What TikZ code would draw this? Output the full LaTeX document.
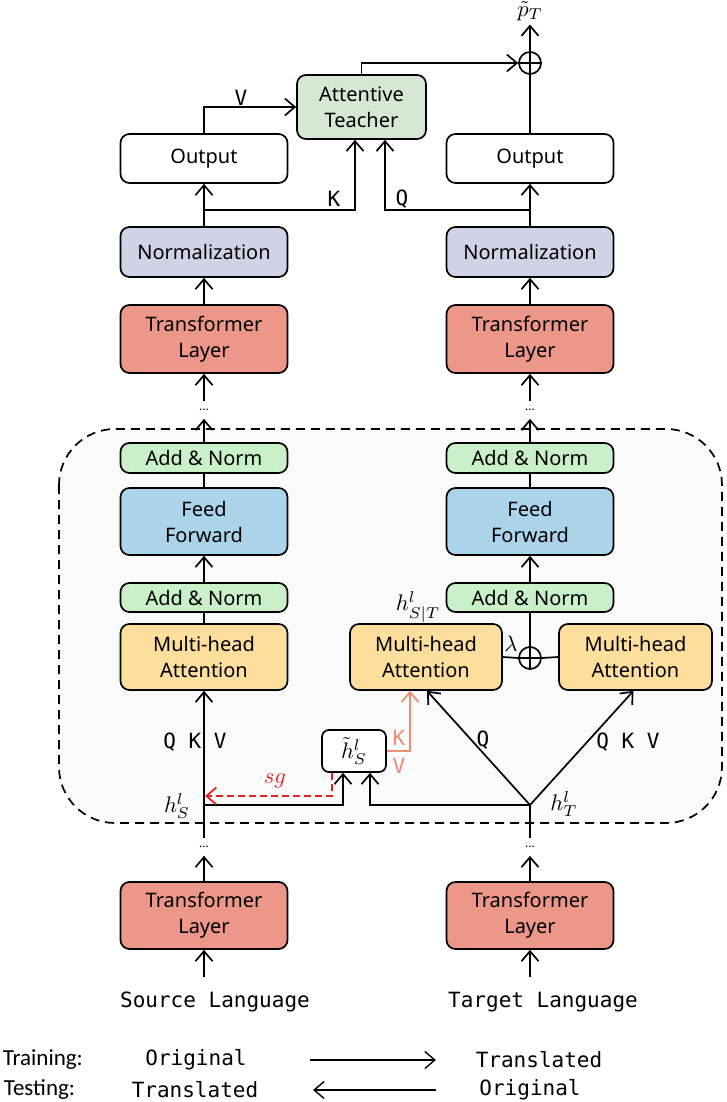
\documentclass[tikz,border=0pt]{standalone}
\usepackage{fontspec}
\setmainfont{Noto Sans}
\setmonofont{DejaVu Sans Mono}
\newfontfamily\legendfont{Carlito}
\usetikzlibrary{arrows.meta, positioning}

\definecolor{tlred}{RGB}{236,151,137}
\definecolor{normblue}{RGB}{208,211,230}
\definecolor{angreen}{RGB}{201,240,200}
\definecolor{ffblue}{RGB}{171,212,234}
\definecolor{mhaorange}{RGB}{252,223,157}
\definecolor{teachgreen}{RGB}{213,232,212}
\definecolor{kvorange}{RGB}{231,142,116}
\definecolor{sgred}{RGB}{232,32,32}
\definecolor{boxgray}{RGB}{250,250,250}

% big math symbols
\newcommand{\bigmath}[1]{\scalebox{2.25}{$#1$}}

\begin{document}
\begin{tikzpicture}[x=1pt, y=-1pt, line width=1.7pt,
    >={Straight Barb[length=10pt,width=17pt]},
    blk/.style={draw, rounded corners=9pt, align=center, minimum width=167pt, inner sep=0pt, font=\fontsize{20}{26}\selectfont},
    dots/.style={minimum height=16pt, inner sep=0pt, font=\fontsize{12}{12}\selectfont},
    plus/.style={circle, draw, minimum size=22pt, inner sep=0pt},
    lbl/.style={inner sep=0pt, font=\fontsize{21}{21}\ttfamily},
    mth/.style={inner sep=1pt, font=\normalsize},
    lang/.style={inner xsep=0pt, inner ysep=14pt, font=\fontsize{21}{21}\ttfamily},
    leg/.style={inner sep=0pt, font=\fontsize{21}{21}\ttfamily}]
\useasboundingbox (0,0) rectangle (727,1102);

% Shared layer block
\draw[dash pattern=on 9pt off 6pt, fill=boxgray, rounded corners=56pt] (59,429) rectangle (722,823);

% Two columns
\foreach \c/\x in {s/204, t/530} {
    \node[blk, fill=white, minimum height=49pt] (\c-out) at (\x,158.5) {Output};
    \node[blk, fill=normblue, minimum height=50pt] (\c-norm) at (\x,252) {Normalization};
    \node[blk, fill=tlred, minimum height=68pt] (\c-tl) at (\x,339) {Transformer\\Layer};
    \node[dots] (\c-dots) at (\x,410) {...};
    \node[blk, fill=angreen, minimum height=30pt] (\c-an2) at (\x,458) {Add \& Norm};
    \node[blk, fill=ffblue, minimum height=67pt] (\c-ff) at (\x,521.5) {Feed\\Forward};
    \node[blk, fill=angreen, minimum height=29pt] (\c-an1) at (\x,597.5) {Add \& Norm};
    \node[dots] (\c-bdots) at (\x,847) {...};
    \node[blk, fill=tlred, minimum height=67pt] (\c-btl) at (\x,915.5) {Transformer\\Layer};
    \draw[->] (\c-btl.north) -- (\c-bdots.south);
    \draw[->] (\c-an1.north) -- (\c-ff.south);
    \draw (\c-ff.north) -- (\c-an2.south);
    \draw[->] (\c-an2.north) -- (\c-dots.south);
    \draw[->] (\c-dots.north) -- (\c-tl.south);
    \draw[->] (\c-tl.north) -- (\c-norm.south);
    \draw[->] (\c-norm.north) -- (\c-out.south);
}

% Attention blocks
\node[blk, fill=mhaorange, minimum height=66pt] (s-mha) at (204,657) {Multi-head\\Attention};
\node[blk, fill=mhaorange, minimum width=152pt, minimum height=66pt] (m-mha) at (426,657) {Multi-head\\Attention};
\node[blk, fill=mhaorange, minimum width=153pt, minimum height=66pt] (t-mha) at (635.5,657) {Multi-head\\Attention};
\node[draw, rounded corners=7pt, fill=white, minimum width=64pt, minimum height=42pt, inner sep=0pt, font=\normalsize] (htil) at (354,751) {\bigmath{\tilde{h}_S^l}};
\node[plus] (pmid) at (530,658) {};
\draw (pmid.north) -- (pmid.south) (pmid.west) -- (pmid.east);

% Teacher
\node[blk, fill=teachgreen, minimum width=129pt, minimum height=64pt] (teacher) at (361.5,107) {Attentive\\Teacher};
\node[plus] (ptop) at (530,63) {};
\draw (ptop.north) -- (ptop.south) (ptop.west) -- (ptop.east);
\node[mth] (pt) at (530,11) {\bigmath{\tilde{p}_T}};

% Top connections
\coordinate (s-jn) at (204,210);
\coordinate (t-jn) at (530,210);
\draw[->] (s-out.north) |- (teacher.west);
\draw[->] (s-jn) -| ([xshift=-6.5pt]teacher.south);
\draw[->] (t-jn) -| ([xshift=23.5pt]teacher.south);
\draw[->] (teacher.north) |- (ptop.west);
\draw (t-out.north) -- (ptop.south);
\draw[->] (ptop.north) -- ([yshift=-2pt]pt.south);
\node[lbl] (v-top) at (241,98) {V};
\node[lbl] (k-top) at (334,199) {K};
\node[lbl] (q-top) at (402,199) {Q};

% Inside the shared block
\coordinate (hs) at (204,805);
\coordinate (hsr) at (205,796);
\coordinate (ht) at (530,805);
\draw[->] (s-bdots.north) -- (s-mha.south);
\draw (s-mha.north) -- (s-an1.south);
\draw[->] (hs) -| ([xshift=-11pt]htil.south);
\draw[->, sgred, dash pattern=on 7pt off 4pt] ([xshift=-22pt]htil.south) |- (hsr);
\draw (t-bdots.north) -- (ht);
\draw[->] (ht) -- ([xshift=1pt]m-mha.south);
\draw[->] (ht) -- ([xshift=-2pt]t-mha.south);
\draw[->] (ht) -| ([xshift=16pt]htil.south);
\draw[->, kvorange] (htil.east) -| ([xshift=-16pt]m-mha.south);
\draw (m-mha.east) -- (pmid.west);
\draw (pmid.east) -- (t-mha.west);
\draw (pmid.north) -- (t-an1.south);

% Labels
\node[lbl] (qkv-s) at (195,742) {Q K V};
\node[lbl] (qkv-t) at (628,742) {Q K V};
\node[lbl] (q-mid) at (483,740) {Q};
\node[lbl, text=kvorange] (k-or) at (399,738) {K};
\node[lbl, text=kvorange] (v-or) at (399,766) {V};
\node[mth] (hs-lbl) at (177,806) {\bigmath{h_S^l}};
\node[mth] (ht-lbl) at (564,804) {\bigmath{h_T^l}};
\node[mth] (hst-lbl) at (418,607) {\bigmath{h_{S|T}^l}};
\node[mth] (lam) at (511,644) {\bigmath{\lambda}};
\node[mth, text=sgred] (sg) at (275,781) {\bigmath{sg}};

% Inputs
\node[lang] (s-lang) at (215,1002) {Source Language};
\node[lang] (t-lang) at (543,1002) {Target Language};
\draw[->] (s-lang.north -| s-btl.south) -- (s-btl.south);
\draw[->] (t-lang.north -| t-btl.south) -- (t-btl.south);

% Legend
\node[inner sep=0pt, anchor=west, font=\fontsize{23}{23}\legendfont] (train) at (2,1060) {Training:};
\node[inner sep=0pt, anchor=west, font=\fontsize{23}{23}\legendfont] (test) at (3,1090) {Testing:};
\node[leg] (train-src) at (196,1060) {Original};
\node[leg] (train-tgt) at (539,1060) {Translated};
\node[leg] (test-src) at (195,1090) {Translated};
\node[leg] (test-tgt) at (530,1090) {Original};
\draw[->, line width=1.4pt, shorten <=63pt, shorten >=39pt] (train-src) -- (train-tgt);
\draw[<-, line width=1.4pt, shorten <=54pt, shorten >=43pt] (test-src) -- (test-tgt);
\end{tikzpicture}
\end{document}
